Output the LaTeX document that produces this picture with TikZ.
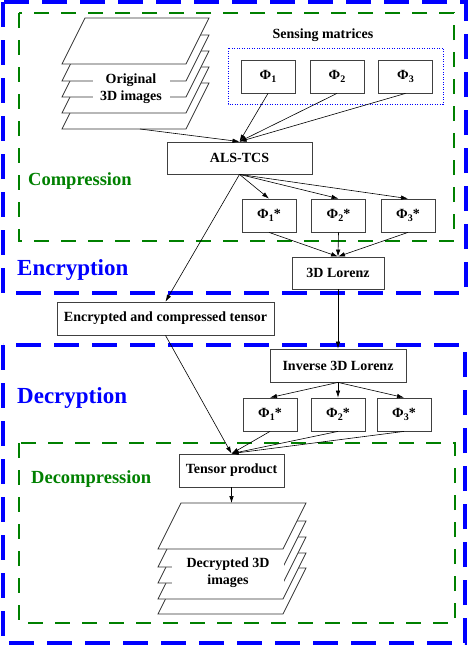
\documentclass[tikz,border=0pt]{standalone}
\usepackage{fontspec}
\setmainfont{Liberation Serif}
\usetikzlibrary{arrows.meta}
\definecolor{dgreen}{RGB}{0,128,0}
\definecolor{dblue}{RGB}{0,0,255}
\newcommand\lbl{\fontsize{14}{17}\selectfont\bfseries}
\newcommand\Phis[2]{Φ\raisebox{-0.35ex}{\fontsize{10}{10}\selectfont #1}#2}
\begin{document}
\begin{tikzpicture}[x=1pt,y=-1pt,
  bluebox/.style={draw=dblue, line width=3.5pt, dash pattern=on 25pt off 13pt},
  greenbox/.style={draw=dgreen, line width=2pt, dash pattern=on 15pt off 12pt},
  dotbox/.style={draw=dblue, line width=0.8pt, dash pattern=on 1pt off 1.5pt},
  secgreen/.style={text=dgreen, font=\fontsize{18.5}{20}\selectfont\bfseries, anchor=base west, inner sep=0pt},
  secblue/.style={text=dblue, font=\fontsize{23}{25}\selectfont\bfseries, anchor=base west, inner sep=0pt},
  box/.style={draw=black!75, line width=0.8pt, fill=white, inner sep=0pt, minimum height=33pt, font=\lbl},
  phibox/.style={box, minimum width=54pt},
  arr/.style={-{Latex[length=7pt,width=4.5pt]}, line width=0.6pt},
  sheetst/.style={draw=black!80, line width=0.8pt, fill=white},
  stacktext/.style={fill=white, inner xsep=0pt, inner ysep=2pt, align=center, font=\lbl}
]
\useasboundingbox (0,0) rectangle (475,653);
% section frames
\draw[bluebox] (3,2) rectangle (466,293);
\draw[bluebox] (3,345) rectangle (465,643);
\draw[greenbox] (19,13) rectangle (454,241);
\draw[greenbox] (19,443) rectangle (455,623);
\node[secgreen] (lcomp) at (28,185) {Compression};
\node[secblue] (lenc) at (17,275) {Encryption};
\node[secblue] (ldec) at (17,403) {Decryption};
\node[secgreen] (ldecomp) at (31,483) {Decompression};
% original images stack
\foreach \y in {83,67,51,35,18}
  \draw[sheetst] (85,\y) -- (209,\y) -- (186,\y+46) -- (62,\y+46) -- cycle;
\node[stacktext, minimum width=77pt] (orig) at (131,88.5) {Original\\3D images};
\coordinate (imgout) at (140,129);
% sensing matrices
\node[font=\lbl, inner sep=0pt] (sens) at (323,35) {Sensing matrices};
\draw[dotbox] (228,48) rectangle (443,104);
\node[phibox] (p1) at (268,76.5) {\Phis{1}{}};
\node[phibox] (p2) at (337,76.5) {\Phis{2}{}};
\node[phibox] (p3) at (405.5,76.5) {\Phis{3}{}};
% ALS-TCS
\node[box, minimum width=145pt, minimum height=32pt] (als) at (239.5,158) {ALS-TCS};
\node[phibox] (s1) at (269,215.5) {\Phis{1}{*}};
\node[phibox] (s2) at (338.5,215.5) {\Phis{2}{*}};
\node[phibox] (s3) at (408,215.5) {\Phis{3}{*}};
\node[box, minimum width=92pt, minimum height=32pt] (lor) at (338,273) {3D Lorenz};
\node[box, minimum width=217pt] (enc) at (165.5,318.5) {Encrypted and compressed tensor};
\node[box, minimum width=136pt] (inv) at (338,365.5) {Inverse 3D Lorenz};
\node[phibox] (t1) at (270,414.5) {\Phis{1}{*}};
\node[phibox] (t2) at (338,414.5) {\Phis{2}{*}};
\node[phibox] (t3) at (404,414.5) {\Phis{3}{*}};
\node[box, minimum width=105pt] (ten) at (231.5,470.5) {Tensor product};
% decrypted images stack
\foreach \y in {568,553,537,521,503}
  \draw[sheetst] (181,\y) -- (306,\y) -- (283,\y+46) -- (158,\y+46) -- cycle;
\node[stacktext, minimum width=112pt] (dec) at (228,573) {Decrypted 3D\\images};
\coordinate (decin) at (231.5,503);
% connectors
\draw[arr] (imgout) -- (als.north);
\foreach \n in {p1,p2,p3} \draw[arr] (\n.south) -- (als.north);
\foreach \n in {s1,s2,s3} \draw[arr] (als.south) -- (\n.north);
\draw[arr] (als.south) -- (enc.north);
\foreach \n in {s1,s2,s3} \draw[arr] (\n.south) -- (lor.north);
\draw[arr] (lor.south) -- (inv.north);
\foreach \n in {t1,t2,t3} \draw[arr] (inv.south) -- (\n.north);
\draw[arr] (enc.south) -- (ten.north);
\foreach \n in {t1,t2,t3} \draw[arr] (\n.south) -- (ten.north);
\draw[arr] (ten.south) -- (decin);
\end{tikzpicture}
\end{document}
